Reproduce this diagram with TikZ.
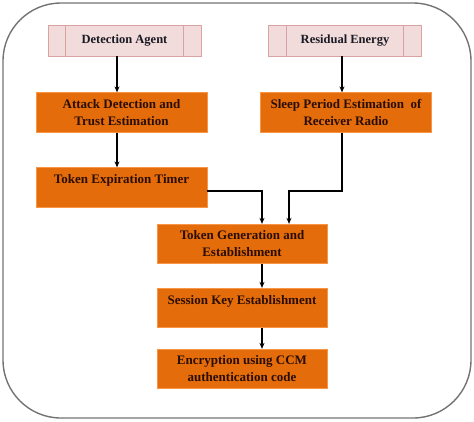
\documentclass[tikz,border=0pt]{standalone}
\usepackage{fontspec}
\setmainfont{Liberation Serif}
\usetikzlibrary{arrows.meta,calc}
\definecolor{pinkfill}{HTML}{F2DCDB}
\definecolor{pinkline}{HTML}{D9A3A3}
\definecolor{orfill}{HTML}{E46C0A}
\definecolor{orline}{HTML}{F79646}
\definecolor{txt}{HTML}{2A0E06}
\definecolor{ptxt}{HTML}{1A1A24}
\tikzset{
  pinkbox/.style={draw=pinkline, fill=pinkfill, line width=0.8pt, minimum width=153pt, minimum height=31pt, inner sep=0pt, font=\fontsize{12.5}{15}\selectfont\bfseries, text=ptxt},
  orbox/.style={draw=orline, fill=orfill, line width=0.8pt, minimum width=171pt, minimum height=39.5pt, inner sep=0pt, align=center, font=\fontsize{13}{17}\selectfont\bfseries, text=txt},
  conn/.style={line width=1.3pt, black},
  arr/.style={conn, -{Stealth[length=6pt,width=5pt]}}
}
\begin{document}
\begin{tikzpicture}[x=1pt,y=-1pt]
\useasboundingbox (0,0) rectangle (474,421);
\draw[line width=1.4pt, draw=black!55, rounded corners=58pt] (3,3) rectangle (471,418);

\node[pinkbox] (da) at (124.5,40.5) {Detection Agent};
\node[pinkbox] (re) at (345,40.5) {Residual Energy};
\foreach \n in {da,re}{
  \draw[pinkline, line width=0.8pt] ($(\n.north west)+(18,0)$) -- ($(\n.south west)+(18,0)$);
  \draw[pinkline, line width=0.8pt] ($(\n.north east)+(-18.5,0)$) -- ($(\n.south east)+(-18.5,0)$);
}

\node[orbox] (att) at (121.5,112.5) {Attack Detection and\\Trust Estimation};
\node[orbox] (spe) at (346,112.5) {Sleep Period Estimation~ of\\Receiver Radio};
\node[orbox] (tet) at (121.5,187.5) {Token Expiration Timer\\\mbox{}};
\node[orbox, minimum width=170pt] (tg) at (242,244) {Token Generation and\\Establishment};
\node[orbox, minimum width=170pt] (sk) at (242,308) {Session Key Establishment\\\mbox{}};
\node[orbox, minimum width=170pt] (enc) at (242,369) {Encryption using CCM\\authentication code};

\coordinate (lx) at (117,0);
\coordinate (rx) at (342,0);
\coordinate (ax) at (262,0);
\coordinate (bx) at (289,0);
\coordinate (jy) at (0,191);

\draw[arr] (da.south -| lx) -- (att.north -| lx);
\draw[arr] (att.south -| lx) -- (tet.north -| lx);
\draw[arr] (re.south -| rx) -- (spe.north -| rx);
\draw[arr] (spe.south -| rx) -- (jy -| rx) -| (tg.north -| bx);
\draw[arr] (tet.east |- jy) -| (tg.north -| ax);
\draw[arr] (tg.south -| ax) -- (sk.north -| ax);
\draw[arr] (sk.south -| ax) -- (enc.north -| ax);
\end{tikzpicture}
\end{document}
